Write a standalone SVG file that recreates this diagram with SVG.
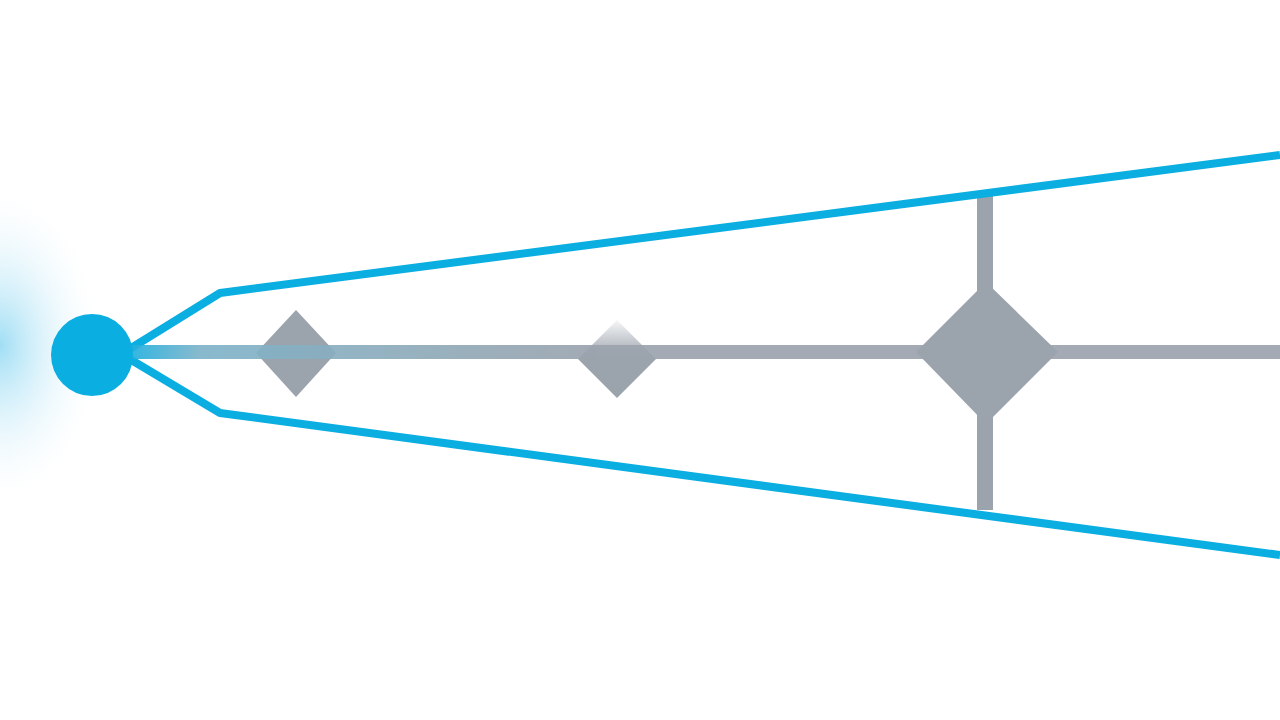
<svg xmlns="http://www.w3.org/2000/svg" width="1280" height="720" viewBox="0 0 1280 720">
<defs>
<radialGradient id="glow" cx="0" cy="345" r="150" gradientUnits="userSpaceOnUse" gradientTransform="translate(0 345) scale(0.7 1.1) translate(0 -345)">
<stop offset="0" stop-color="#8fd8f3" stop-opacity="0.85"/>
<stop offset="0.45" stop-color="#bfe8f7" stop-opacity="0.45"/>
<stop offset="1" stop-color="#ffffff" stop-opacity="0"/>
</radialGradient>
<linearGradient id="bar" x1="130" y1="0" x2="600" y2="0" gradientUnits="userSpaceOnUse">
<stop offset="0" stop-color="#1fb0e0"/>
<stop offset="0.15" stop-color="#7fb3c9"/>
<stop offset="1" stop-color="#9ba3ad"/>
</linearGradient>
<linearGradient id="d2" x1="0" y1="318" x2="0" y2="398" gradientUnits="userSpaceOnUse">
<stop offset="0" stop-color="#9ba3ad" stop-opacity="0.05"/>
<stop offset="0.35" stop-color="#9ba3ad" stop-opacity="0.7"/>
<stop offset="0.5" stop-color="#9ba3ad"/>
<stop offset="1" stop-color="#9ba3ad"/>
</linearGradient>
<style>
.cy{stroke:#0aaee0;stroke-width:8;fill:none;stroke-linejoin:round}
.gr{fill:#9ba3ad}
</style>
</defs>
<rect width="1280" height="720" fill="#ffffff"/>
<rect x="0" y="170" width="130" height="360" fill="url(#glow)"/>
<g id="connectors">
<rect x="977" y="195" width="16" height="315" class="gr"/>
<polyline class="cy" points="128,350 220,293 1280,155"/>
<polyline class="cy" points="128,358 220,413 1280,555"/>
</g>
<g id="diamond1"><polygon class="gr" points="296,310 336,353 296,397 256,353"/></g>
<g id="diamond2"><polygon points="617,320 656,359 617,398 578,359" fill="url(#d2)"/></g>
<g id="bar"><rect x="130" y="345" width="1150" height="14" fill="url(#bar)" opacity="0.92"/></g>
<g id="diamond3"><polygon class="gr" points="986,282 1058,352 986,424 916,352"/></g>
<g id="source"><circle cx="92" cy="355" r="41" fill="#0aaee0"/></g>
</svg>
